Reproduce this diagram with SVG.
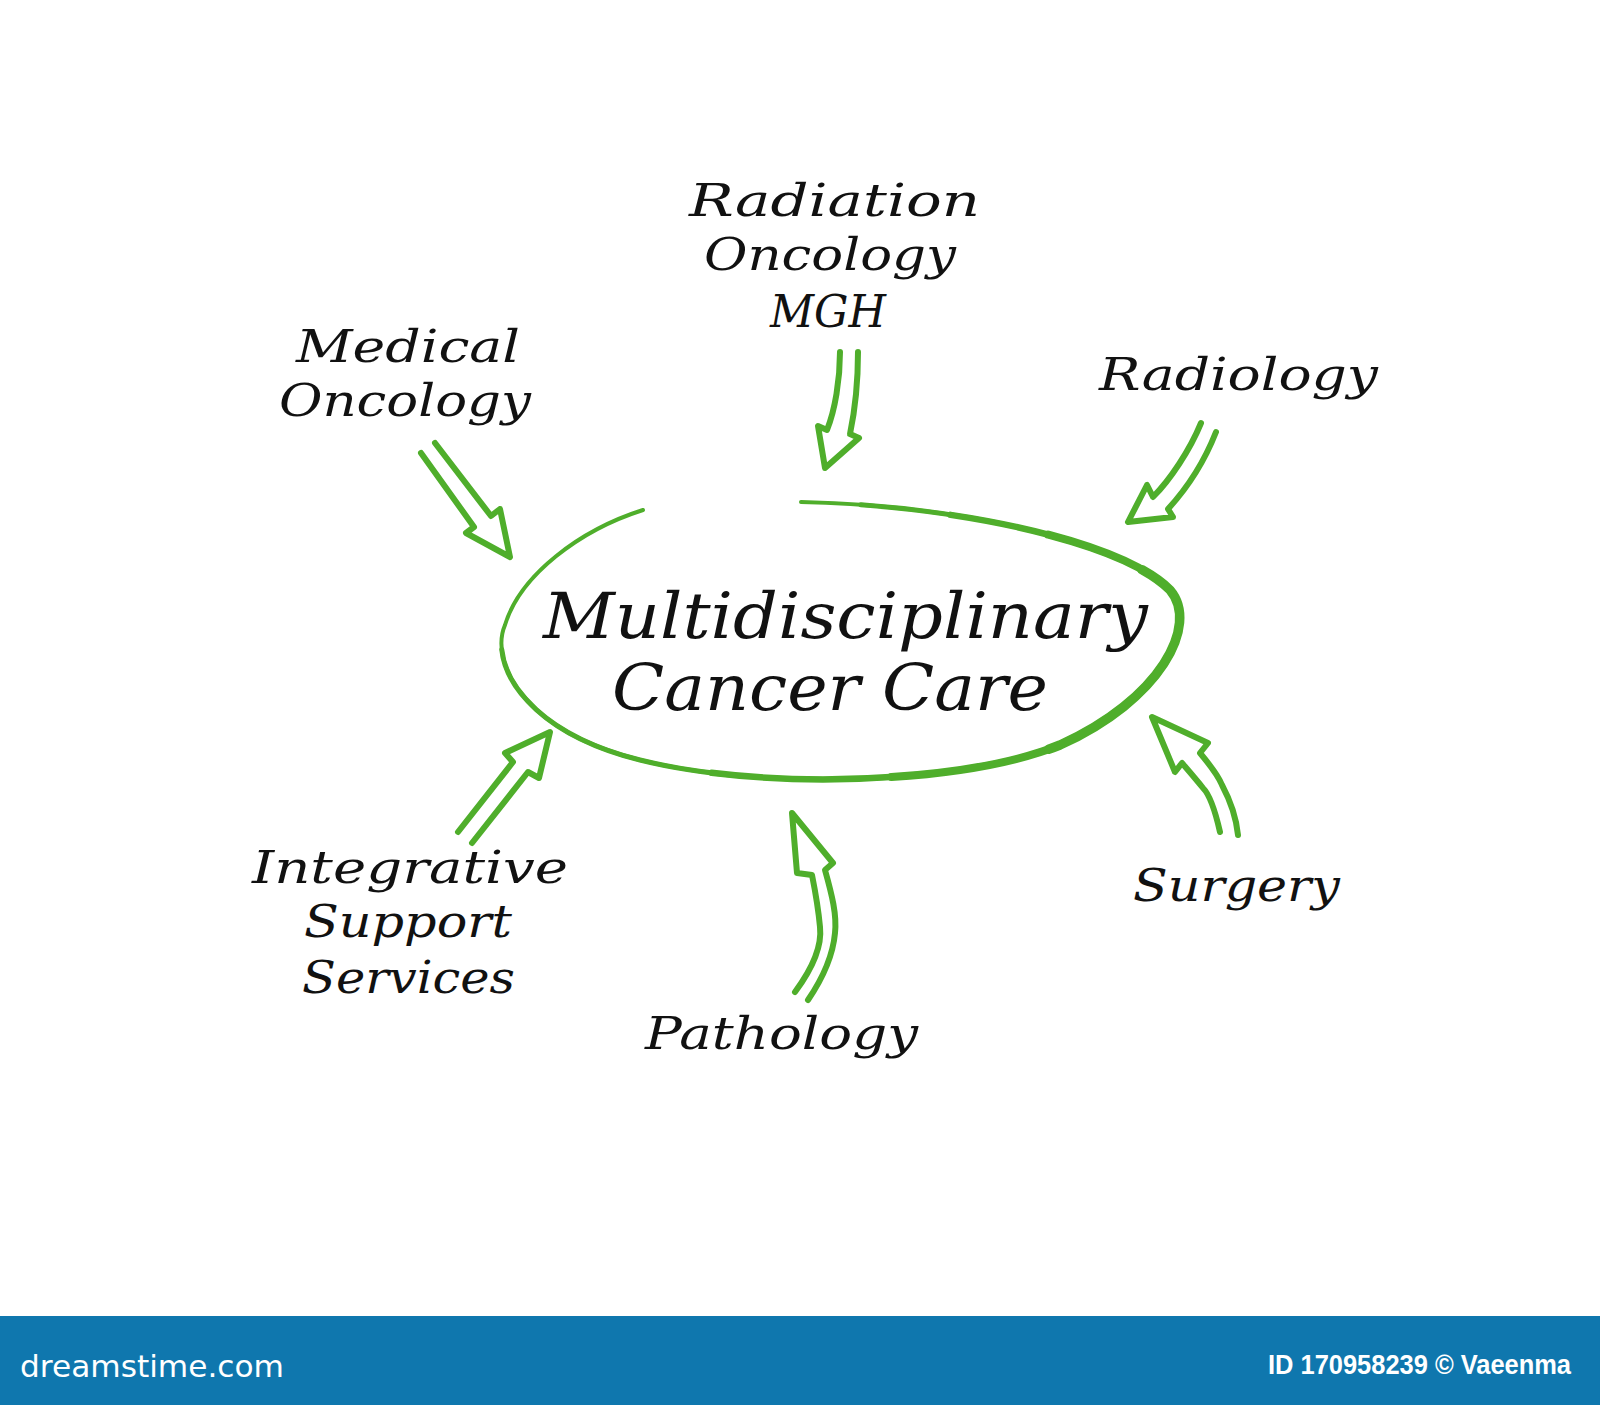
<svg xmlns="http://www.w3.org/2000/svg" width="1600" height="1405" viewBox="0 0 1600 1405">
<style>
.lbl{font-family:"DejaVu Serif","Liberation Serif",serif;font-style:italic;font-size:44px;fill:#111;}
.big{font-family:"DejaVu Serif","Liberation Serif",serif;font-style:italic;font-size:64px;fill:#111;}
.arr{fill:none;stroke:#4fae2b;stroke-width:6;stroke-linejoin:round;stroke-linecap:round;}
.ell{fill:none;stroke:#4fae2b;stroke-linecap:round;}
</style>
<defs>
<path id="ep" d="M801,502 C950,505 1120,540 1170,590 C1200,625 1160,700 1060,745 C960,785 760,790 640,760 C520,730 490,660 505,625 C520,575 580,530 643,510"/>
</defs>
<rect width="1600" height="1405" fill="#fff"/>
<g id="center">
<use href="#ep" class="ell" stroke-width="4"/>
<use href="#ep" class="ell" stroke-width="5" stroke-dasharray="1150 3000" stroke-dashoffset="-60"/>
<use href="#ep" class="ell" stroke-width="6.5" stroke-dasharray="800 3000" stroke-dashoffset="-150"/>
<use href="#ep" class="ell" stroke-width="8" stroke-dasharray="520 3000" stroke-dashoffset="-250"/>
<use href="#ep" class="ell" stroke-width="9.5" stroke-dasharray="260 3000" stroke-dashoffset="-350"/>
<text class="big" x="543" y="638" textLength="605" lengthAdjust="spacingAndGlyphs">Multidisciplinary</text>
<text class="big" x="612" y="710" textLength="436" lengthAdjust="spacingAndGlyphs">Cancer Care</text>
</g>
<g id="radiation">
<text class="lbl" x="689" y="216" textLength="291" lengthAdjust="spacingAndGlyphs">Radiation</text>
<text class="lbl" x="704" y="270" textLength="252" lengthAdjust="spacingAndGlyphs">Oncology</text>
<text class="lbl" x="770" y="327" textLength="116" lengthAdjust="spacingAndGlyphs">MGH</text>
</g>
<g id="medical">
<text class="lbl" x="296" y="362" textLength="224" lengthAdjust="spacingAndGlyphs">Medical</text>
<text class="lbl" x="279" y="416" textLength="252" lengthAdjust="spacingAndGlyphs">Oncology</text>
</g>
<g id="radiology">
<text class="lbl" x="1099" y="390" textLength="279" lengthAdjust="spacingAndGlyphs">Radiology</text>
</g>
<g id="integrative">
<text class="lbl" x="252" y="883" textLength="316" lengthAdjust="spacingAndGlyphs">Integrative</text>
<text class="lbl" x="304" y="937" textLength="208" lengthAdjust="spacingAndGlyphs">Support</text>
<text class="lbl" x="302" y="993" textLength="213" lengthAdjust="spacingAndGlyphs">Services</text>
</g>
<g id="pathology">
<text class="lbl" x="645" y="1049" textLength="273" lengthAdjust="spacingAndGlyphs">Pathology</text>
</g>
<g id="surgery">
<text class="lbl" x="1133" y="901" textLength="207" lengthAdjust="spacingAndGlyphs">Surgery</text>
</g>
<g id="connectors">
<path class="arr" d="M421,453 L474,527 L466,533 L510,557 L500,509 L491,516 L435,443"/>
<path class="arr" d="M840,352 C840,380 835,410 827,430 L818,426 L825,468 L859,438 L850,434 C855,410 858,385 858,352"/>
<path class="arr" d="M1201,423 C1190,450 1170,480 1153,497 L1147,485 L1128,522 L1173,517 L1168,509 C1190,485 1205,460 1216,432"/>
<path class="arr" d="M458,832 L513,762 L505,753 L550,732 L539,778 L528,772 L472,843"/>
<path class="arr" d="M795,992 C815,965 822,945 820,927 C818,905 815,890 812,875 L797,873 L792,813 L833,863 L825,870 C832,895 837,915 835,933 C833,955 825,975 808,1000"/>
<path class="arr" d="M1220,832 C1215,810 1210,795 1203,788 C1195,778 1188,770 1182,763 L1175,772 L1152,717 L1208,743 L1200,753 C1210,765 1218,775 1222,785 C1230,800 1236,815 1238,835"/>
</g>
<g id="footer">
<rect x="0" y="1316" width="1600" height="89" fill="#0f77ae"/>
<text x="20" y="1377" font-family="DejaVu Sans, sans-serif" font-size="31" fill="#fff" textLength="264" lengthAdjust="spacingAndGlyphs">dreamstime.com</text>
<text x="1268" y="1374" font-family="Liberation Sans, sans-serif" font-weight="bold" font-size="27" fill="#fff" textLength="303" lengthAdjust="spacingAndGlyphs">ID 170958239 © Vaeenma</text>
</g>
</svg>
